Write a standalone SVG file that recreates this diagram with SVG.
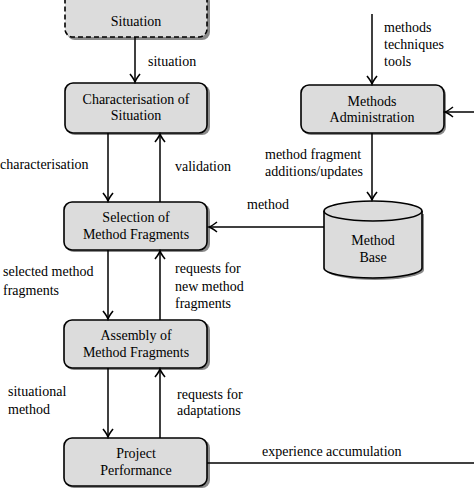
<svg xmlns="http://www.w3.org/2000/svg" width="474" height="490" viewBox="0 0 474 490">
<defs>
<style>
.box{fill:#dcdcdc;stroke:#000;stroke-width:1.6}
.shadow{fill:#8a8a8a;stroke:none}
text{font-family:'Liberation Serif','Times New Roman','DejaVu Serif',serif;font-size:14px;fill:#000}
.c{text-anchor:middle}
.ln{fill:none;stroke:#000;stroke-width:1.5}
</style>
<marker id="ah" viewBox="-10 -6 12 12" refX="0" refY="0" markerWidth="12" markerHeight="12" markerUnits="userSpaceOnUse" orient="auto">
<path d="M-8,-5 Q-3,-1 0,0 Q-3,1 -8,5" fill="none" stroke="#000" stroke-width="1.6"/>
</marker>
</defs>
<rect width="474" height="490" fill="#fff"/>

<g id="situation">
<rect class="shadow" x="67" y="-6" width="143" height="46" rx="8"/>
<rect class="box" x="65" y="-8" width="142" height="45" rx="8" stroke-dasharray="5,3"/>
<text class="c" x="136" y="26">Situation</text>
</g>

<g id="characterisation">
<rect class="shadow" x="67" y="85" width="143" height="50" rx="8"/>
<rect class="box" x="65" y="83" width="142" height="50" rx="8"/>
<text class="c" x="136" y="104">Characterisation of</text>
<text class="c" x="136" y="120">Situation</text>
</g>

<g id="selection">
<rect class="shadow" x="66" y="204" width="144" height="48" rx="8"/>
<rect class="box" x="64" y="202" width="143" height="48" rx="8"/>
<text class="c" x="136" y="222">Selection of</text>
<text class="c" x="136" y="239">Method Fragments</text>
</g>

<g id="assembly">
<rect class="shadow" x="66" y="322" width="144" height="48" rx="8"/>
<rect class="box" x="64" y="320" width="143" height="48" rx="8"/>
<text class="c" x="136" y="340">Assembly of</text>
<text class="c" x="136" y="357">Method Fragments</text>
</g>

<g id="project">
<rect class="shadow" x="66" y="440" width="144" height="48" rx="8"/>
<rect class="box" x="64" y="438" width="143" height="48" rx="8"/>
<text class="c" x="136" y="458">Project</text>
<text class="c" x="136" y="475">Performance</text>
</g>

<g id="methods-admin">
<rect class="shadow" x="303" y="87" width="143" height="48" rx="8"/>
<rect class="box" x="301" y="85" width="143" height="48" rx="8"/>
<text class="c" x="372" y="106">Methods</text>
<text class="c" x="372" y="122">Administration</text>
</g>

<g id="method-base">
<path class="shadow" d="M326,214 L326,270 A49,10 0 0 0 424,270 L424,214 Z"/>
<path class="box" d="M324,211 L324,268 A49,10 0 0 0 422,268 L422,211 A49,10 0 0 0 324,211 Z"/>
<path class="ln" d="M324,211 A49,10 0 0 0 422,211"/>
<text class="c" x="373" y="245">Method</text>
<text class="c" x="373" y="262">Base</text>
</g>

<g id="connectors">
<line class="ln" x1="135" y1="37" x2="135" y2="82" marker-end="url(#ah)"/>
<line class="ln" x1="108" y1="133" x2="108" y2="201" marker-end="url(#ah)"/>
<line class="ln" x1="160" y1="202" x2="160" y2="134" marker-end="url(#ah)"/>
<line class="ln" x1="108" y1="250" x2="108" y2="319" marker-end="url(#ah)"/>
<line class="ln" x1="160" y1="320" x2="160" y2="251" marker-end="url(#ah)"/>
<line class="ln" x1="108" y1="368" x2="108" y2="437" marker-end="url(#ah)"/>
<line class="ln" x1="160" y1="438" x2="160" y2="369" marker-end="url(#ah)"/>
<line class="ln" x1="372" y1="14" x2="372" y2="84" marker-end="url(#ah)"/>
<line class="ln" x1="372" y1="133" x2="372" y2="200" marker-end="url(#ah)"/>
<line class="ln" x1="474" y1="112" x2="445" y2="112" marker-end="url(#ah)"/>
<line class="ln" x1="324" y1="227" x2="209" y2="227" marker-end="url(#ah)"/>
<line class="ln" x1="207" y1="463" x2="474" y2="463"/>
</g>

<g id="labels">
<text x="148" y="66">situation</text>
<text x="0" y="169">characterisation</text>
<text x="175" y="171">validation</text>
<text x="3" y="276">selected method</text>
<text x="3" y="295">fragments</text>
<text x="175" y="273">requests for</text>
<text x="175" y="291">new method</text>
<text x="175" y="308">fragments</text>
<text x="8" y="396">situational</text>
<text x="8" y="414">method</text>
<text x="177" y="399">requests for</text>
<text x="177" y="415">adaptations</text>
<text x="384" y="32">methods</text>
<text x="384" y="49">techniques</text>
<text x="384" y="66">tools</text>
<text x="265" y="159">method fragment</text>
<text x="265" y="176">additions/updates</text>
<text x="247" y="209">method</text>
<text x="262" y="456">experience accumulation</text>
</g>
</svg>
